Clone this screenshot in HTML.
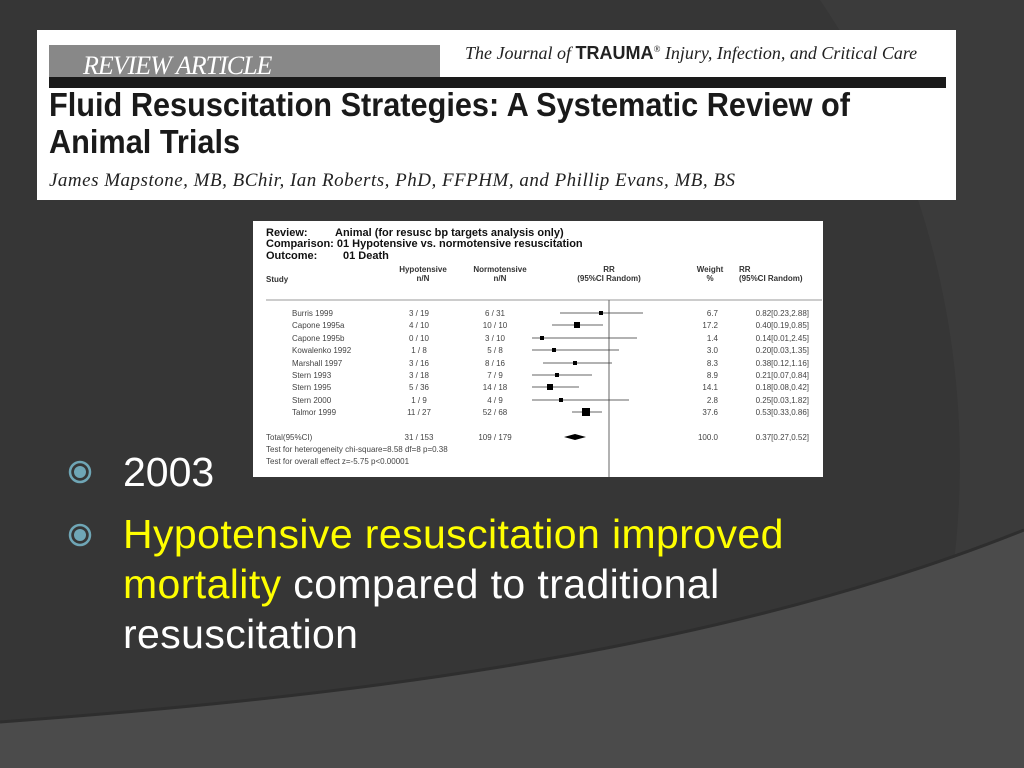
<!DOCTYPE html>
<html><head><meta charset="utf-8"><style>
html,body{margin:0;padding:0;}
body{width:1024px;height:768px;overflow:hidden;background:#353535;position:relative;font-family:"Liberation Sans",sans-serif;}
.abs{position:absolute;}
</style></head><body>
<svg class="abs" style="left:0;top:0" width="1024" height="768">
<rect width="1024" height="768" fill="#363636"/>
<path d="M820,0 L1024,0 L1024,768 L900,768 C990,560 990,250 820,0 Z" fill="#3b3b3b"/>
<path d="M0,722 C300,700 700,660 1024,530 L1024,768 L0,768 Z" fill="#4b4b4b"/>
<path d="M0,722 C300,700 700,660 1024,530" stroke="#2e2e2e" stroke-width="3" fill="none"/>
</svg>
<!-- header -->
<div class="abs" style="left:37px;top:30px;width:919px;height:170px;background:#fff;"></div>
<div class="abs" style="left:49px;top:45px;width:391px;height:32px;background:#888;"></div>
<div class="abs" style="left:83px;top:51px;font-family:'Liberation Serif',serif;font-style:italic;font-size:26px;color:#fff;letter-spacing:-1px;">REVIEW ARTICLE</div>
<div class="abs" style="left:465px;top:43px;font-family:'Liberation Serif',serif;font-style:italic;font-size:18px;color:#222;white-space:nowrap;">The Journal of <span style="font-family:'Liberation Sans',sans-serif;font-style:normal;font-weight:bold;">TRAUMA</span><sup style="font-size:9px">®</sup> Injury, Infection, and Critical Care</div>
<div class="abs" style="left:49px;top:77px;width:897px;height:11px;background:#1a1a1a;"></div>
<div class="abs" style="left:49px;top:86px;font-weight:bold;font-size:33px;line-height:37px;color:#1a1a1a;transform:scaleX(0.93);transform-origin:0 0;white-space:nowrap;">Fluid Resuscitation Strategies: A Systematic Review of<br>Animal Trials</div>
<div class="abs" style="left:49px;top:170px;font-family:'Liberation Serif',serif;font-style:italic;font-size:19px;color:#222;white-space:nowrap;letter-spacing:0.5px;">James Mapstone, MB, BChir, Ian Roberts, PhD, FFPHM, and Phillip Evans, MB, BS</div>
<!-- forest plot -->
<svg class="abs" style="left:253px;top:221px" width="570" height="256" viewBox="253 221 570 256" font-family="Liberation Sans, sans-serif">
<rect x="253" y="221" width="570" height="256" fill="#fff"/>
<g font-weight="bold" font-size="11" fill="#111">
<text x="266" y="236">Review:</text><text x="335" y="236">Animal (for resusc bp targets analysis only)</text>
<text x="266" y="247">Comparison: 01 Hypotensive vs. normotensive resuscitation</text>
<text x="266" y="259">Outcome:</text><text x="343" y="259">01 Death</text>
</g>
<g font-size="8" fill="#333" font-weight="bold">
<text x="266" y="282">Study</text>
<text x="423" y="272" text-anchor="middle">Hypotensive</text><text x="423" y="281" text-anchor="middle">n/N</text>
<text x="500" y="272" text-anchor="middle">Normotensive</text><text x="500" y="281" text-anchor="middle">n/N</text>
<text x="609" y="272" text-anchor="middle">RR</text><text x="609" y="281" text-anchor="middle">(95%CI Random)</text>
<text x="710" y="272" text-anchor="middle">Weight</text><text x="710" y="281" text-anchor="middle">%</text>
<text x="739" y="272">RR</text><text x="739" y="281">(95%CI Random)</text>
</g>
<line x1="266" y1="300" x2="822" y2="300" stroke="#999" stroke-width="1"/>
<line x1="609" y1="300" x2="609" y2="477" stroke="#666" stroke-width="1"/>
<g font-size="8" fill="#444">
<g text-anchor="start">
<text x="292" y="316">Burris 1999</text><text x="292" y="328">Capone 1995a</text><text x="292" y="341">Capone 1995b</text><text x="292" y="353">Kowalenko 1992</text><text x="292" y="366">Marshall 1997</text><text x="292" y="378">Stern 1993</text><text x="292" y="390">Stern 1995</text><text x="292" y="403">Stern 2000</text><text x="292" y="415">Talmor 1999</text>
<text x="266" y="440">Total(95%CI)</text>
<text x="266" y="452">Test for heterogeneity chi-square=8.58  df=8  p=0.38</text>
<text x="266" y="464">Test for overall effect  z=-5.75  p&lt;0.00001</text>
</g>
<g text-anchor="middle">
<text x="419" y="316">3 / 19</text><text x="419" y="328">4 / 10</text><text x="419" y="341">0 / 10</text><text x="419" y="353">1 / 8</text><text x="419" y="366">3 / 16</text><text x="419" y="378">3 / 18</text><text x="419" y="390">5 / 36</text><text x="419" y="403">1 / 9</text><text x="419" y="415">11 / 27</text><text x="419" y="440">31 / 153</text>
<text x="495" y="316">6 / 31</text><text x="495" y="328">10 / 10</text><text x="495" y="341">3 / 10</text><text x="495" y="353">5 / 8</text><text x="495" y="366">8 / 16</text><text x="495" y="378">7 / 9</text><text x="495" y="390">14 / 18</text><text x="495" y="403">4 / 9</text><text x="495" y="415">52 / 68</text><text x="495" y="440">109 / 179</text>
</g>
<g text-anchor="end">
<text x="718" y="316">6.7</text><text x="718" y="328">17.2</text><text x="718" y="341">1.4</text><text x="718" y="353">3.0</text><text x="718" y="366">8.3</text><text x="718" y="378">8.9</text><text x="718" y="390">14.1</text><text x="718" y="403">2.8</text><text x="718" y="415">37.6</text><text x="718" y="440">100.0</text>
<text x="809" y="316">0.82[0.23,2.88]</text><text x="809" y="328">0.40[0.19,0.85]</text><text x="809" y="341">0.14[0.01,2.45]</text><text x="809" y="353">0.20[0.03,1.35]</text><text x="809" y="366">0.38[0.12,1.16]</text><text x="809" y="378">0.21[0.07,0.84]</text><text x="809" y="390">0.18[0.08,0.42]</text><text x="809" y="403">0.25[0.03,1.82]</text><text x="809" y="415">0.53[0.33,0.86]</text><text x="809" y="440">0.37[0.27,0.52]</text>
</g>
</g>
<g stroke="#333" stroke-width="0.8">
<line x1="560" y1="313" x2="643" y2="313"/><line x1="552" y1="325" x2="603" y2="325"/><line x1="532" y1="338" x2="637" y2="338"/><line x1="532" y1="350" x2="619" y2="350"/><line x1="543" y1="363" x2="612" y2="363"/><line x1="532" y1="375" x2="592" y2="375"/><line x1="532" y1="387" x2="579" y2="387"/><line x1="532" y1="400" x2="629" y2="400"/><line x1="572" y1="412" x2="602" y2="412"/>
</g>
<g fill="#000">
<rect x="599" y="311" width="4" height="4"/><rect x="574" y="322" width="6" height="6"/><rect x="540" y="336" width="4" height="4"/><rect x="552" y="348" width="4" height="4"/><rect x="573" y="361" width="4" height="4"/><rect x="555" y="373" width="4" height="4"/><rect x="547" y="384" width="6" height="6"/><rect x="559" y="398" width="4" height="4"/><rect x="582" y="408" width="8" height="8"/>
<polygon points="564,437 575,434 586,437 575,440"/>
</g>
</svg>
<!-- bullets -->
<svg class="abs" style="left:68px;top:458px" width="30" height="100">
<circle cx="12" cy="14" r="10" fill="none" stroke="#6fa6b6" stroke-width="2.5"/><circle cx="12" cy="14" r="6" fill="#6fa6b6"/>
<circle cx="12" cy="77" r="10" fill="none" stroke="#6fa6b6" stroke-width="2.5"/><circle cx="12" cy="77" r="6" fill="#6fa6b6"/>
</svg>
<div class="abs" style="left:123px;top:449px;font-size:41px;color:#fff;line-height:46px;">2003</div>
<div class="abs" style="left:123px;top:509px;font-size:41px;color:#fff;line-height:50px;white-space:nowrap;letter-spacing:0.4px;"><span style="color:#ffff00">Hypotensive resuscitation improved<br>mortality</span> compared to traditional<br>resuscitation</div>
</body></html>
